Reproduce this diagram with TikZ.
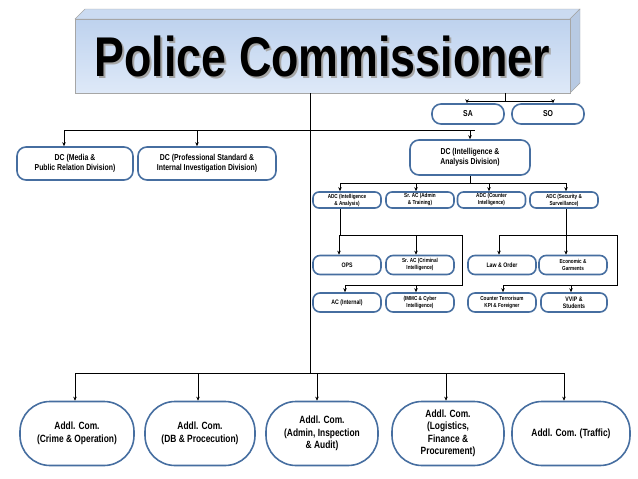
\documentclass[tikz,border=0pt]{standalone}
\usepackage{fontspec}
\setmainfont{Liberation Sans}
\newfontfamily\nar{Liberation Sans}[FakeStretch=0.8]
\usetikzlibrary{arrows.meta}
\definecolor{bord}{RGB}{70,110,160}
\definecolor{ftop}{RGB}{190,210,238}
\definecolor{fbot}{RGB}{222,233,248}
\begin{document}
\begin{tikzpicture}[x=1pt,y=-1pt,
  box/.style={draw=bord,line width=1.6pt,fill=white,rounded corners=#1,inner sep=0pt,align=center,font=\nar\bfseries},
  box/.default=9pt,
  ln/.style={line width=0.7pt,black},
  ar/.style={ln,-{Stealth[length=4pt,width=3.5pt]}},
  s1/.style={font=\nar\bfseries\fontsize{8.6}{10}\selectfont},
  s2/.style={font=\nar\bfseries\fontsize{5.8}{7}\selectfont},
  s3/.style={font=\nar\bfseries\fontsize{10.5}{12.5}\selectfont}]
\useasboundingbox (0,0) rectangle (638,479);
% main box 3D
\fill[ftop!80!white,draw=gray!70,line width=0.4pt] (75,19) -- (85,9) -- (580,9) -- (570,19) -- cycle;
\fill[ftop!90!gray,draw=gray!70,line width=0.4pt] (570,19) -- (580,9) -- (580,83) -- (570,93) -- cycle;
\shade[top color=ftop,bottom color=fbot,draw=gray!70,line width=0.4pt] (75,19) rectangle (570,93);
\node[font=\nar\bfseries\fontsize{56}{60}\selectfont,text=gray!70] at (324.5,58.5) {Police Commissioner};
\node (pc) [font=\nar\bfseries\fontsize{56}{60}\selectfont,inner sep=0pt] at (322.5,56.5) {Police Commissioner};
% SA SO
\node (sa) [box,s1,minimum width=72pt,minimum height=20pt] at (468,114) {SA};
\node (so) [box,s1,minimum width=72pt,minimum height=20pt] at (548,114) {SO};
\coordinate (pcsa) at (505,93);
\draw[ln] (pcsa) -- (505,101);
\draw[ar] (467,101) -- (sa.north -| 467,0);
\draw[ar] (553,101) -- (so.north -| 553,0);
\draw[ln] (467,101) -- (553,101);
% DC row
\node (dcm) [box,s1,minimum width=116pt,minimum height=33pt] at (75,163.5) {DC (Media \&\\Public Relation Division)};
\node (dcp) [box,s1,minimum width=138pt,minimum height=33pt] at (207,163.5) {DC (Professional Standard \&\\Internal Investigation Division)};
\node (dci) [box,s1,minimum width=120pt,minimum height=35pt] at (470,157.5) {DC (Intelligence \&\\Analysis Division)};
\coordinate (j2) at (310,373);
\draw[ln] (310,93) -- (j2);
\draw[ln] (64,130) -- (475,130);
\draw[ar] (64,130) -- (dcm.north -| 64,0);
\draw[ar] (197,130) -- (dcp.north -| 197,0);
\draw[ar] (470,130) -- (dci.north);
% ADC row
\node (a1) [box=6pt,s2,minimum width=68pt,minimum height=16pt] at (347,200) {ADC (Intelligence\\\& Analysis)};
\node (a2) [box=6pt,s2,minimum width=68pt,minimum height=16pt] at (420,200) {Sr. AC (Admin\\\& Training)};
\node (a3) [box=6pt,s2,minimum width=68pt,minimum height=16pt] at (491.5,200) {ADC (Counter\\Intelligence)};
\node (a4) [box=6pt,s2,minimum width=68pt,minimum height=16pt] at (564,200) {ADC (Security \&\\Surveillance)};
\draw[ln] (dci.south) -- (470,183);
\draw[ln] (340,183) -- (566,183);
\draw[ar] (340,183) -- (a1.north -| 340,0);
\draw[ar] (416,183) -- (a2.north -| 416,0);
\draw[ar] (489,183) -- (a3.north -| 489,0);
\draw[ar] (566,183) -- (a4.north -| 566,0);
% left subtree
\node (ops) [box=7pt,s2,minimum width=68pt,minimum height=19pt] at (347,265) {\fontsize{6.5}{8}\selectfont OPS};
\node (crim) [box=7pt,s2,minimum width=68pt,minimum height=19pt] at (420,265) {Sr. AC (Criminal\\Intelligence)};
\node (aci) [box=7pt,s2,minimum width=68pt,minimum height=19pt] at (347,302.5) {\fontsize{6.5}{8}\selectfont AC (Internal)};
\node (immc) [box=7pt,s2,minimum width=68pt,minimum height=19pt] at (420,302.5) {(IMMC \& Cyber\\Intelligence)};
\draw[ln] (a1.south -| 340,0) -- (340,235);
\draw[ln] (339,235) -- (462,235) -- (462,285) -- (345,285);
\draw[ar] (339,235) -- (ops.north -| 339,0);
\draw[ar] (416,235) -- (crim.north -| 416,0);
\draw[ar] (345,285) -- (aci.north -| 345,0);
\draw[ar] (416,285) -- (immc.north -| 416,0);
% right subtree
\node (law) [box=7pt,s2,minimum width=68pt,minimum height=19pt] at (502,265) {\fontsize{6.5}{8}\selectfont Law \& Order};
\node (eco) [box=7pt,s2,minimum width=68pt,minimum height=19pt] at (573,265) {Economic \&\\Garments};
\node (ctr) [box=7pt,s2,minimum width=68pt,minimum height=19pt] at (502,302.5) {Counter Terrorisum\\KPI \& Foreigner};
\node (vvip) [box=7pt,s2,minimum width=66pt,minimum height=19pt] at (574,302.5) {\fontsize{6.5}{8}\selectfont VVIP \&\\\fontsize{6.5}{8}\selectfont Students};
\draw[ln] (a4.south -| 566,0) -- (566,235);
\draw[ln] (499,235) -- (617,235) -- (617,285) -- (503,285);
\draw[ar] (499,235) -- (law.north -| 499,0);
\draw[ar] (566,235) -- (eco.north -| 566,0);
\draw[ar] (503,285) -- (ctr.north -| 503,0);
\draw[ar] (571,285) -- (vvip.north -| 571,0);
% bottom row
\node (b1) [box=30pt,s3,minimum width=114pt,minimum height=64pt] at (77,433.5) {Addl. Com.\\(Crime \& Operation)};
\node (b2) [box=30pt,s3,minimum width=110pt,minimum height=64pt] at (200,433.5) {Addl. Com.\\(DB \& Procecution)};
\node (b3) [box=30pt,s3,minimum width=112pt,minimum height=64pt] at (322,433.5) {Addl. Com.\\(Admin, Inspection\\\& Audit)};
\node (b4) [box=30pt,s3,minimum width=112pt,minimum height=64pt] at (448,433.5) {Addl. Com.\\(Logistics,\\Finance \&\\Procurement)};
\node (b5) [box=30pt,s3,minimum width=118pt,minimum height=64pt] at (571,433.5) {Addl. Com. (Traffic)};
\draw[ln] (75,373) -- (564,373);
\draw[ar] (75,373) -- (b1.north -| 75,0);
\draw[ar] (198,373) -- (b2.north -| 198,0);
\draw[ar] (317,373) -- (b3.north -| 317,0);
\draw[ar] (446,373) -- (b4.north -| 446,0);
\draw[ar] (564,373) -- (b5.north -| 564,0);
\end{tikzpicture}
\end{document}
